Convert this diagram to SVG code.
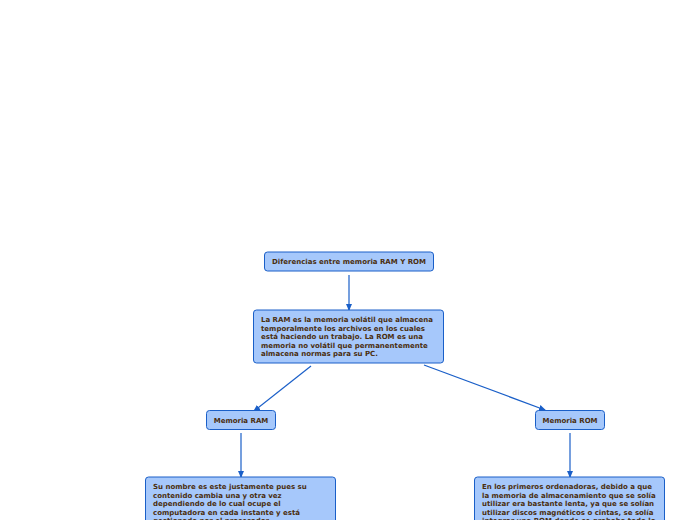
<svg xmlns="http://www.w3.org/2000/svg" width="696" height="520" viewBox="0 0 696 520">
<style>
.n{fill:#a6c8fb;stroke:#1a5fc8;stroke-width:1}
.t{font-family:"DejaVu Sans",Verdana,sans-serif;font-weight:bold;font-size:7px;fill:#4a2e0e}
.c{stroke:#1a5fc8;stroke-width:1.2;fill:none;marker-end:url(#a)}
</style>
<defs><marker id="a" markerWidth="8" markerHeight="8" refX="6" refY="4" orient="auto" markerUnits="userSpaceOnUse"><path d="M0,1 L7,4 L0,7 z" fill="#1a5fc8"/></marker></defs>
<rect width="696" height="520" fill="#fff"/>
<g id="connectors">
<line class="c" x1="349" y1="275" x2="349" y2="310"/>
<line class="c" x1="311" y1="366" x2="254" y2="411"/>
<line class="c" x1="424" y1="365" x2="545" y2="410"/>
<line class="c" x1="241" y1="433" x2="241" y2="477"/>
<line class="c" x1="570" y1="433" x2="570" y2="477"/>
</g>
<g id="n1"><rect class="n" x="264.5" y="252" width="169" height="19" rx="3"/><text class="t" x="349" y="264" text-anchor="middle">Diferencias entre memoria RAM Y ROM</text></g>
<g id="n2"><rect class="n" x="253.5" y="310" width="190" height="53" rx="3"/><text class="t"><tspan x="261" y="322">La RAM es la memoria volátil que almacena</tspan><tspan x="261" y="330.5">temporalmente los archivos en los cuales</tspan><tspan x="261" y="339">está haciendo un trabajo. La ROM es una</tspan><tspan x="261" y="347.5">memoria no volátil que permanentemente</tspan><tspan x="261" y="356">almacena normas para su PC.</tspan></text></g>
<g id="n3"><rect class="n" x="206.5" y="410.5" width="69" height="19" rx="3"/><text class="t" x="241" y="422.5" text-anchor="middle">Memoria RAM</text></g>
<g id="n4"><rect class="n" x="535.5" y="410.5" width="69" height="19" rx="3"/><text class="t" x="570" y="422.5" text-anchor="middle">Memoria ROM</text></g>
<g id="n5"><rect class="n" x="145.5" y="477" width="190" height="60" rx="3"/><text class="t"><tspan x="153" y="489">Su nombre es este justamente pues su</tspan><tspan x="153" y="497.5">contenido cambia una y otra vez</tspan><tspan x="153" y="506">dependiendo de lo cual ocupe el</tspan><tspan x="153" y="514.5">computadora en cada instante y está</tspan><tspan x="153" y="523">gestionado por el procesador.</tspan></text></g>
<g id="n6"><rect class="n" x="474.5" y="477" width="190" height="60" rx="3"/><text class="t"><tspan x="482" y="489">En los primeros ordenadoras, debido a que</tspan><tspan x="482" y="497.5">la memoria de almacenamiento que se solía</tspan><tspan x="482" y="506">utilizar era bastante lenta, ya que se solían</tspan><tspan x="482" y="514.5">utilizar discos magnéticos o cintas, se solía</tspan><tspan x="482" y="523">integrar una ROM donde se grababa todo lo</tspan></text></g>
</svg>
